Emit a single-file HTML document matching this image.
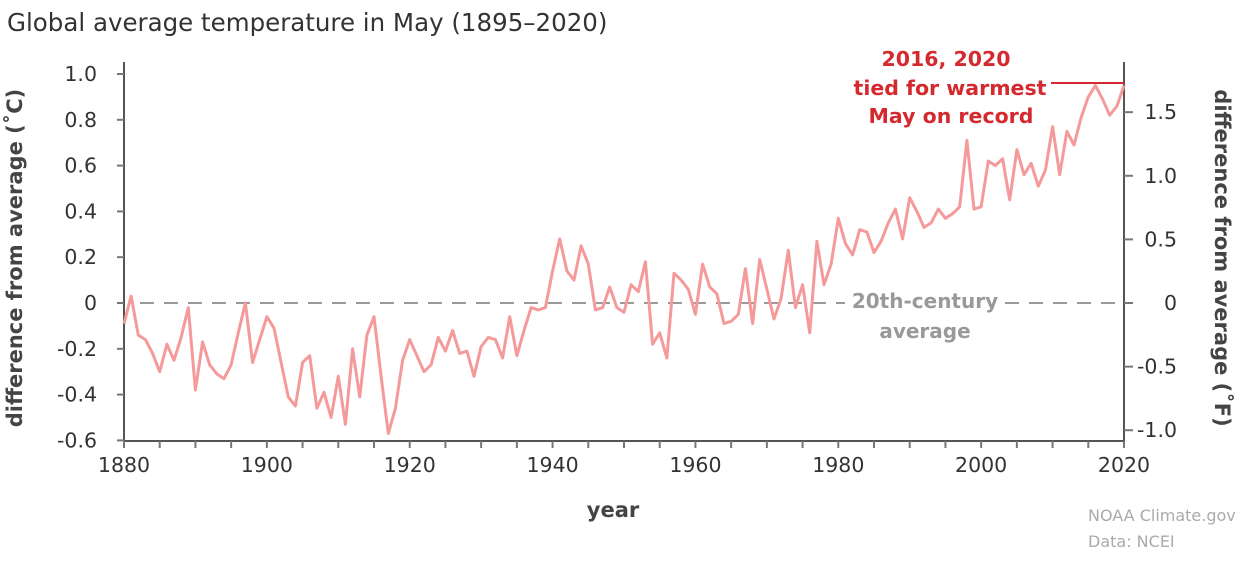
<!DOCTYPE html>
<html><head><meta charset="utf-8"><style>
body{margin:0;background:#fff;}
svg text{font-family:"DejaVu Sans","Liberation Sans",sans-serif;}
</style></head><body>
<svg id="chart" width="1240" height="558" viewBox="0 0 1240 558" xmlns="http://www.w3.org/2000/svg">
<text x="7" y="31" font-size="24.5" fill="#333">Global average temperature in May (1895–2020)</text>
<g id="axes"></g>
<g id="series"></g>
<text x="613" y="517" font-size="21" font-weight="bold" fill="#444" text-anchor="middle">year</text>
<text transform="translate(22,258) rotate(-90)" font-size="21" font-weight="bold" fill="#444" text-anchor="middle">difference from average (˚C)</text>
<text transform="translate(1215,258) rotate(90)" font-size="21" font-weight="bold" fill="#444" text-anchor="middle">difference from average (˚F)</text>
<g font-size="20.5" font-weight="bold" fill="#d42a2f" text-anchor="middle">
<text x="946" y="66">2016, 2020</text>
<text x="950" y="95">tied for warmest</text>
<text x="951" y="123">May on record</text>
</g>
<line x1="1051" y1="83" x2="1124" y2="83" stroke="#d42a2f" stroke-width="2"/>
<g font-size="20" font-weight="bold" fill="#999" text-anchor="middle">
<text x="925" y="308">20th-century</text>
<text x="925" y="338">average</text>
</g>
<g font-size="16" fill="#aaa">
<text x="1088" y="521">NOAA Climate.gov</text>
<text x="1088" y="547">Data: NCEI</text>
</g>
</svg>
<script>
const years = [];
for (let y = 1880; y <= 2020; y++) years.push(y);
const anomalies = [
-0.09,0.03,-0.14,-0.16,-0.22,-0.30,-0.18,-0.25,-0.15,-0.02,
-0.38,-0.17,-0.27,-0.31,-0.33,-0.27,-0.13,0.00,-0.26,-0.16,
-0.06,-0.11,-0.26,-0.41,-0.45,-0.26,-0.23,-0.46,-0.39,-0.50,
-0.32,-0.53,-0.20,-0.41,-0.14,-0.06,-0.32,-0.57,-0.46,-0.25,
-0.16,-0.23,-0.30,-0.27,-0.15,-0.21,-0.12,-0.22,-0.21,-0.32,
-0.19,-0.15,-0.16,-0.24,-0.06,-0.23,-0.12,-0.02,-0.03,-0.02,
0.14,0.28,0.14,0.10,0.25,0.17,-0.03,-0.02,0.07,-0.02,
-0.04,0.08,0.05,0.18,-0.18,-0.13,-0.24,0.13,0.10,0.06,
-0.05,0.17,0.07,0.04,-0.09,-0.08,-0.05,0.15,-0.09,0.19,
0.06,-0.07,0.02,0.23,-0.02,0.08,-0.13,0.27,0.08,0.17,
0.37,0.26,0.21,0.32,0.31,0.22,0.27,0.35,0.41,0.28,
0.46,0.40,0.33,0.35,0.41,0.37,0.39,0.42,0.71,0.41,
0.42,0.62,0.60,0.63,0.45,0.67,0.56,0.61,0.51,0.58,
0.77,0.56,0.75,0.69,0.81,0.90,0.95,0.89,0.82,0.86,
0.95];
const xTicks = [1880,1900,1920,1940,1960,1980,2000,2020];
const cTicks = [1.0,0.8,0.6,0.4,0.2,0,-0.2,-0.4,-0.6];
const cTickLabels = ["1.0","0.8","0.6","0.4","0.2","0","-0.2","-0.4","-0.6"];
const fTicks = [1.5,1.0,0.5,0,-0.5,-1.0];
const fTickLabels = ["1.5","1.0","0.5","0","-0.5","-1.0"];

const NS = "http://www.w3.org/2000/svg";
const X0 = 124, X1 = 1124, Y0 = 303, PXC = 229;
const xs = y => X0 + (y - 1880) * (X1 - X0) / 140;
const yc = v => Y0 - v * PXC;
const yf = f => Y0 - (f / 1.8) * PXC;
function mk(tag, attrs, parent, txt) {
  const e = document.createElementNS(NS, tag);
  for (const k in attrs) e.setAttribute(k, attrs[k]);
  if (txt !== undefined) e.textContent = txt;
  parent.appendChild(e);
  return e;
}
const axes = document.getElementById('axes');
const series = document.getElementById('series');

let el = mk('line', {x1: 140, y1: Y0, x2: 845, y2: Y0, stroke: '#999', 'stroke-width': 2, 'stroke-dasharray': '14 10'}, axes);


el = mk('line', {x1: 1005, y1: Y0, x2: X1, y2: Y0, stroke: '#999', 'stroke-width': 2, 'stroke-dasharray': '14 10'}, axes);



el = mk('line', {x1: X0, y1: 62, x2: X0, y2: 442, stroke: '#555', 'stroke-width': 2}, axes);


el = mk('line', {x1: X1, y1: 62, x2: X1, y2: 442, stroke: '#555', 'stroke-width': 2}, axes);


el = mk('line', {x1: X0, y1: 441, x2: X1, y2: 441, stroke: '#555', 'stroke-width': 2}, axes);



for (let y = 1880; y <= 2020; y += 5) {
  el = mk('line', {x1: xs(y), y1: 441, x2: xs(y), y2: 448, stroke: '#777', 'stroke-width': 2}, axes);
  
  
}
xTicks.forEach(t => {
  el = mk('text', {x: xs(t), y: 472, 'font-size': 20.5, fill: '#333', 'text-anchor': 'middle'}, axes, String(t));
  
  
});
cTicks.forEach((t, i) => {
  el = mk('line', {x1: X0 - 7, y1: yc(t), x2: X0, y2: yc(t), stroke: '#777', 'stroke-width': 2}, axes);
  
  
  el = mk('text', {x: 97, y: yc(t) + 7, 'font-size': 20.5, fill: '#333', 'text-anchor': 'end'}, axes, cTickLabels[i]);
  
  
});
fTicks.forEach((t, i) => {
  el = mk('line', {x1: X1, y1: yf(t), x2: X1 + 9, y2: yf(t), stroke: '#777', 'stroke-width': 2}, axes);
  
  
  el = mk('text', {x: 1177, y: yf(t) + 7, 'font-size': 20.5, fill: '#333', 'text-anchor': 'end'}, axes, fTickLabels[i]);
  
  
});
const pts = years.map((y, i) => xs(y).toFixed(1) + ',' + yc(anomalies[i]).toFixed(1)).join(' ');
el = mk('polyline', {points: pts, fill: 'none', stroke: '#f59a9a', 'stroke-width': 3, 'stroke-linejoin': 'round'}, series);


</script>
</body></html>
